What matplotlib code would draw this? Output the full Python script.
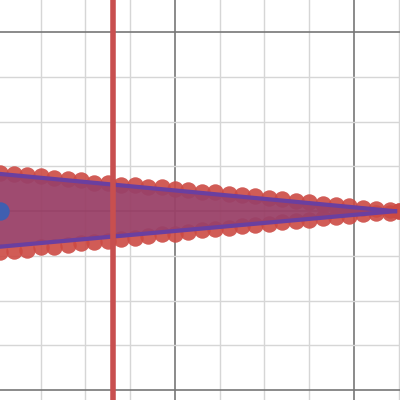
import matplotlib
matplotlib.use("Agg")
import matplotlib.pyplot as plt
import numpy as np

# triangle vertices (graph units, minor grid = 1)
tri_x = [-4.2, 4.92, -4.2]
tri_y = [0.86, 0.0, -0.82]
line_x = -1.39
# red dot samples along edges (x, y)
upper_x = [-3.9,-3.6,-3.3,-3.0,-2.7,-2.4,-2.1,-1.8,-1.5,-1.2,-0.9,-0.6,-0.3,0.0,0.3,0.6,0.9,1.2,1.5,1.8,2.1,2.4,2.7,3.0,3.3,3.6,3.9,4.2,4.5,4.8,5.0]
upper_y = [0.86,0.84,0.80,0.78,0.74,0.72,0.70,0.64,0.64,0.58,0.58,0.54,0.53,0.49,0.48,0.43,0.42,0.38,0.36,0.33,0.30,0.28,0.23,0.20,0.17,0.13,0.11,0.08,0.05,0.03,0.0]
lower_x = upper_x
lower_y = [-0.92,-0.90,-0.86,-0.81,-0.79,-0.76,-0.72,-0.68,-0.66,-0.63,-0.59,-0.56,-0.52,-0.50,-0.46,-0.43,-0.40,-0.38,-0.34,-0.31,-0.29,-0.25,-0.22,-0.19,-0.16,-0.13,-0.10,-0.07,-0.05,-0.03,0.0]

fig = plt.figure(figsize=(4, 4), dpi=100)
ax = fig.add_axes([0, 0, 1, 1])
ax.set_xlim(-3.91, 5.03)
ax.set_ylim(-4.22, 4.72)
for v in np.arange(-3, 6):
    ax.axvline(v, color="#d6d6d6" if v % 4 else "#777777", lw=1.0 if v % 4 else 1.2, zorder=0)
for v in np.arange(-4, 5):
    ax.axhline(v, color="#d6d6d6" if v % 4 else "#777777", lw=1.0 if v % 4 else 1.2, zorder=0)
ax.scatter(upper_x, upper_y, s=140, color="#cc4a44", alpha=0.9, lw=0, zorder=2)
ax.scatter(lower_x, lower_y, s=140, color="#cc4a44", alpha=0.9, lw=0, zorder=2)
ax.fill(tri_x, tri_y, color="#9a4168", alpha=0.95, zorder=3)
ax.plot(tri_x[:2], tri_y[:2], color="#6a3fa0", lw=3, zorder=4)
ax.plot(tri_x[1:], tri_y[1:], color="#6a3fa0", lw=3, zorder=4)
ax.axvline(line_x, color="#c84f4f", lw=4, zorder=5)
ax.scatter([-3.91], [0.0], s=150, color="#3f5fb0", zorder=6)
ax.axis("off")
fig.savefig("out.png", dpi=100)
